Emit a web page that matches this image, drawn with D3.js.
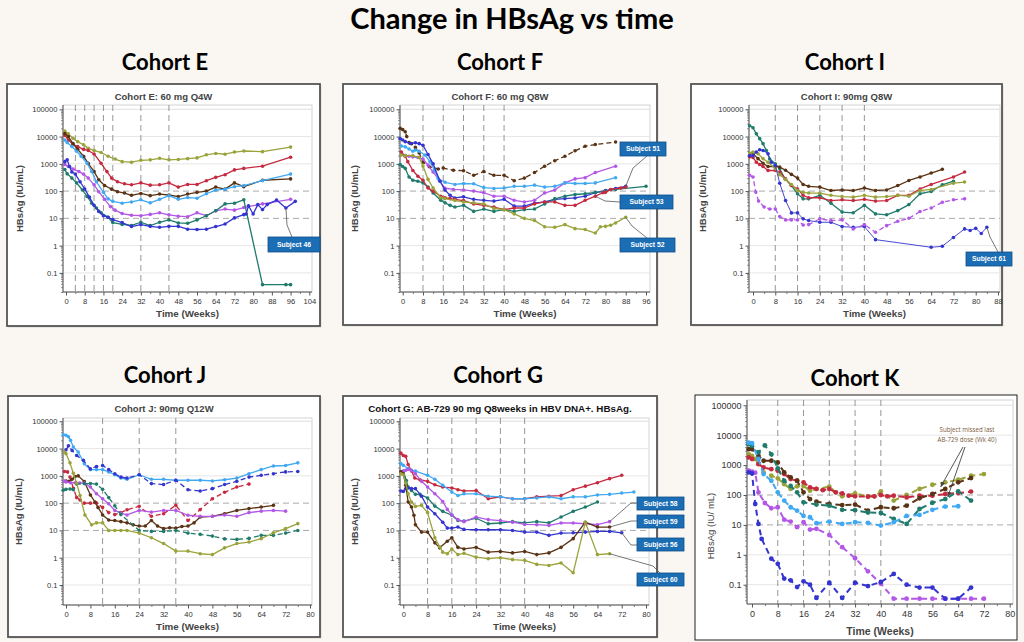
<!DOCTYPE html>
<html><head><meta charset="utf-8">
<script src="https://cdn.jsdelivr.net/npm/d3@7"></script>
<style>body{margin:0;background:#faf6f1;} svg{display:block}</style>
</head><body>
<svg id="c" width="1024" height="642"></svg>
<script>
// ---------- DATA: [week, HBsAg IU/mL] ----------
const yTickValues = [0.1, 1, 10, 100, 1000, 10000, 100000];
const yTickLabels = ["0.1", "1", "10", "100", "1000", "10000", "100000"];

// Cohort E
const E_olive = [[-0.5,16000],[1,12500],[3,8700],[5,6500],[7.5,5000],[9.5,3700],[12,3100],[15,2600],[18,1900],[21,1500],[24,1200],[28,1150],[32,1350],[36,1400],[40,1600],[44,1400],[48,1450],[52,1550],[56,1650],[60,2150],[64,2400],[68,2250],[72,2700],[76,2950],[84,2800],[96,4100]];
const E_red = [[-0.5,11000],[1,7500],[3,5200],[5,4300],[7.5,3400],[9.5,3100],[12,2300],[15,1050],[17.5,520],[19.5,300],[22,220],[25,185],[28,170],[32,200],[36,165],[40,170],[44,200],[48,140],[52,175],[56,175],[60,240],[64,320],[68,400],[72,600],[76,680],[84,820],[96,1750]];
const E_brown = [[-0.5,13000],[1,10000],[3,5500],[5,3400],[7.5,1900],[9.5,1050],[12,520],[14,260],[16.5,160],[19.5,118],[22,95],[25,85],[28,70],[32,82],[36,68],[40,78],[44,72],[48,63],[52,78],[56,90],[60,100],[64,140],[68,118],[72,200],[76,145],[84,250],[96,280]];
const E_lblue = [[-0.5,7500],[0.5,6000],[2.5,4300],[4.5,2900],[6.5,1900],[9,1050],[11,520],[13,220],[16,90],[18,52],[20,42],[24,36],[28,40],[32,48],[36,37],[40,50],[44,68],[48,50],[52,58],[56,55],[60,80],[64,108],[68,118],[72,145],[76,160],[84,240],[96,420]];
const E_purple = [[-0.5,950],[1,800],[3,650],[5.5,520],[7.5,420],[9.5,300],[12,170],[14,95],[16.5,50],[19,27],[21,20],[24,15],[28,13],[32,12.5],[36,14],[40,16],[44,13.5],[48,12],[52,11.5],[56,16],[60,12.5],[64,19],[68,22],[72,20],[76,25],[84,34],[96,50]];
const E_teal = [[-0.5,620],[0.5,430],[2.5,300],[4.5,200],[7,110],[9,64],[11,36],[13,24],[15,16],[18,11],[20,7],[24,6],[28,5.5],[32,7.2],[36,5.4],[40,7.2],[44,8.8],[48,6.8],[52,6.6],[56,8.8],[60,12.5],[64,19],[68,34],[72,36],[76,48],[84,0.037],[94,0.037],[96,0.037]];
const E_blue = [[-0.5,1200],[0.5,1400],[1.5,800],[2.5,500],[4,420],[6,220],[8,120],[10,60],[12,30],[14,18],[16,12.5],[18,11],[20,9],[24,7],[28,5],[32,5.9],[36,5.1],[40,4.7],[44,5.1],[48,5.1],[52,4],[56,3.9],[60,4],[64,5],[68,6.2],[72,10.4],[76,13.7],[77,14.5],[78,29],[80,14.5],[82,32],[84,21],[86,32],[90,47],[94,24],[98,42]];

// Cohort F
const F_brown = [[-1,20000],[0,18000],[1,15000],[1.6,10000],[2.5,6000],[3.5,5500],[5,4000],[6.5,2500],[8,1150],[10.5,780],[14,650],[16,700],[20,580],[24,560],[28,380],[32,520],[36,380],[40,380],[44,240],[48,300],[52,480],[56,820],[60,1300],[64,1900],[68,3000],[72,4400],[76,5100],[84,6300]];
const F_purple = [[-0.5,2200],[1,2000],[2.5,1900],[4,1800],[6,1700],[8,1500],[10,900],[12,500],[14.5,250],[16.5,130],[20,115],[24,110],[28,100],[32,87],[36,65],[40,65],[44,46],[48,40],[52,46],[56,85],[60,110],[64,200],[68,280],[72,310],[76,480],[84,820]];
const F_lblue = [[-0.5,4500],[1,4200],[2.5,3500],[4,2900],[5,3200],[6.5,2900],[8.8,2100],[10.8,1200],[12.5,600],[14,290],[16.7,210],[20.6,175],[24,190],[28,185],[32,135],[36,125],[40,130],[44,150],[48,150],[52,165],[56,140],[60,150],[64,200],[68,190],[72,190],[76,200],[84,310]];
const F_blue = [[-1,8500],[0,7500],[1,6500],[3,5600],[5,5900],[6.5,5500],[8,4800],[10,2200],[12,1000],[14.7,230],[16.7,110],[18.7,70],[20.6,56],[24,62],[28,50],[32,46],[36,43],[40,50],[44,28],[48,28],[52,36],[56,40],[60,50],[64,53],[68,56],[72,65],[76,87],[80,105],[84,125],[88,150]];
const F_teal = [[-1,950],[0,800],[1,680],[2.5,330],[4,250],[6,230],[8,200],[10,140],[12,85],[15,46],[16.7,37],[18.7,30],[20.6,26],[24,30],[28,18],[32,22],[36,18],[40,21],[44,18],[48,21],[52,22],[56,34],[60,52],[64,65],[68,75],[72,80],[76,90],[80,100],[84,115],[96,150]];
const F_red = [[-0.5,2700],[1,1900],[2,1200],[4,570],[6,350],[8,250],[10,130],[12,100],[15,65],[16.7,57],[18.7,53],[20.6,50],[24,45],[28,34],[32,30],[36,26],[40,21],[44,24],[48,24],[52,34],[56,40],[60,40],[64,30],[68,30],[72,46],[76,65],[79,87],[80,90],[82,115],[86,130],[88,140]];
const F_olive = [[-0.5,2100],[1,2000],[4,2000],[6.5,1700],[8,830],[10,270],[12,130],[15,57],[16.7,53],[20.6,45],[24,40],[28,37],[32,34],[36,23],[40,21],[44,14.6],[48,10],[52,8.3],[56,4.9],[60,4.7],[64,5.9],[68,4.2],[72,3.9],[76,2.9],[78,4.9],[80,5.1],[82,5.6],[84,6.8],[88,11]];

// Cohort I
const I_teal = [[-1.2,25000],[0,21000],[1.2,12600],[2.4,8400],[3.6,5500],[4.8,3100],[6,1500],[8,1000],[9.6,660],[11.5,280],[13.8,160],[16,80],[18,52],[20,52],[24,70],[28,36],[32,17],[36,16],[40,30],[44,14.6],[48,13.5],[52,19.3],[56,32],[60,80],[64,97],[68,170],[72,230]];
const I_brown = [[0,2350],[1.8,1550],[3.6,1050],[5.4,800],[8,800],[9.6,760],[11.7,580],[13.8,410],[16,300],[18,175],[20,150],[24,140],[28,105],[32,110],[36,105],[40,130],[44,105],[48,110],[52,160],[56,245],[60,330],[64,460],[68,630]];
const I_red = [[-1.2,1800],[0,1700],[1.2,1150],[2.4,950],[3.6,800],[5.4,570],[8,570],[9.6,500],[11.7,280],[13.8,160],[16,120],[18,70],[20,57],[24,57],[28,45],[32,48],[36,45],[40,50],[44,43],[48,45],[52,70],[56,70],[60,120],[64,175],[72,330],[76,500]];
const I_olive = [[-1.2,2500],[0,2700],[1.8,2350],[3.6,1550],[5.4,1150],[8,660],[9.6,400],[11.7,270],[13.8,175],[16,105],[18,90],[20,85],[24,85],[28,70],[32,63],[36,60],[40,70],[44,60],[48,63],[52,70],[56,65],[60,105],[64,115],[72,195],[76,215]];
const I_blue = [[-1.2,2000],[0,2000],[1.2,2700],[2.4,3300],[3.6,3100],[5.4,2350],[6.6,1150],[8,870],[9.6,195],[11.7,45],[13.8,15.9],[16,15.9],[18,9.6],[20,8.3],[24,7.2],[28,7.2],[32,5],[36,4.7],[40,5],[44,1.66],[64,0.87],[68,0.95],[72,2.0],[76,4.1],[78,3.6],[80,4.3],[82,2.8],[84,4.7]];
const I_purple = [[-1.2,380],[0,330],[1,92],[2,43],[4,26],[6,22],[8,22],[9.6,11.7],[11.7,8.8],[13.8,8.8],[16,8.8],[18,5.7],[20,5.9],[24,9.6],[28,8.3],[32,8.8],[36,4.1],[40,5.9],[44,3.1],[48,5.4],[52,7.8],[56,10.1],[60,17.8],[64,24],[68,39],[72,48],[76,52]];

// Cohort J
const J_lblue = [[-0.9,32000],[0,31000],[0.8,27000],[1.5,20000],[2.4,11500],[4,7500],[6,2800],[8,1700],[10,1700],[12,1700],[14,1400],[16,1100],[18,830],[20,750],[24,1100],[28,750],[32,750],[36,690],[40,690],[44,690],[48,650],[52,720],[56,830],[60,1200],[64,1700],[68,2300],[72,2400],[76,3000]];
const J_blue = [[0,9000],[0.8,12600],[2,8500],[3.5,5600],[5.7,3700],[8,1800],[10,2200],[12,2400],[14,1700],[16,1200],[18,900],[20,830],[24,1100],[28,520],[32,480],[36,690],[40,310],[44,280],[48,340],[52,480],[56,630],[60,900],[64,1050],[68,1200],[72,1400],[76,1450]];
const J_red = [[-0.5,1450],[0.5,1400],[1.3,900],[2.4,350],[3.5,160],[4.6,130],[6,100],[8,100],[10,100],[12,70],[14,45],[16,38],[18,45],[20,57],[24,77],[28,33],[32,41],[36,83],[40,23],[44,58],[48,145],[52,250],[56,390],[60,500]];
const J_brown = [[0,650],[1,630],[2,750],[3,950],[4,1000],[6,620],[8,200],[9.5,110],[10.5,70],[12,37],[14,24],[16,23],[18,21],[20,19],[22,16],[24,14.5],[26,14.5],[28,23],[30,14.5],[32,11.6],[34,12.6],[36,12.2],[38,14],[40,14.5],[42,19],[44,31],[48,33],[52,41],[56,54],[60,63],[64,72],[68,83]];
const J_purple = [[-0.5,640],[0,600],[1.5,560],[3,560],[4.5,550],[6,540],[8,390],[10,220],[12,145],[14,95],[16,54],[18,43],[20,37],[24,54],[28,47],[32,54],[36,54],[40,36],[44,33],[48,33],[52,37],[56,33],[60,45],[64,51],[68,54],[72,51]];
const J_teal = [[-0.9,300],[0,320],[1.3,330],[2.4,310],[3.5,500],[6,520],[8,520],[10,500],[12,320],[14,160],[16,80],[18,38],[24,10],[28,9.2],[32,9.2],[36,10],[40,8],[44,7.2],[48,6.2],[52,4.9],[56,4.7],[60,5.1],[64,6.6],[68,6.6],[72,8],[76,10]];
const J_olive = [[-0.5,7500],[0,6500],[1.3,3000],[2.4,1250],[3.5,540],[4.6,190],[6.2,37],[8.4,16],[10,19],[12,19],[14,10],[16,10],[18,10],[20,10],[24,8],[28,5.4],[32,3.3],[36,1.75],[40,1.75],[44,1.4],[48,1.3],[52,2.3],[56,3.3],[60,3.75],[64,5],[68,8.2],[72,11.6],[76,17.7]];

// Cohort G
const G_red = [[-0.8,6800],[0,5600],[0.8,5200],[1.6,2600],[2.7,1500],[3.8,830],[5.5,720],[8,630],[10.4,470],[13,390],[16,360],[18,310],[20,280],[24,290],[28,145],[32,170],[36,145],[40,145],[44,170],[48,180],[52,190],[56,310],[60,420],[64,560],[68,790],[72,1050]];
const G_lblue = [[-0.8,2800],[0,2450],[1.6,1850],[2.7,1600],[4,1500],[8,1050],[10.4,750],[13,450],[16,255],[18,190],[20,220],[24,220],[28,180],[32,170],[36,145],[40,145],[44,155],[48,170],[52,145],[56,170],[60,170],[64,200],[68,210],[72,235],[76,255]];
const G_teal = [[-0.8,1400],[0,1500],[1,680],[1.6,390],[2.7,290],[4,210],[5.5,210],[8,155],[10.4,78],[13,50],[16,36],[18,23],[20,22],[24,28],[28,17.6],[32,18.7],[36,21],[40,19],[44,21],[48,19],[52,31],[56,50],[60,72],[64,110]];
const G_purple = [[-0.8,1400],[0,1450],[0.8,1600],[1.6,1750],[2.7,1600],[4,1200],[6,630],[8,390],[10.4,220],[13,115],[14.5,59],[16,37],[18,25],[20,21],[24,31],[28,25],[32,23],[36,20],[40,16.6],[44,16.2],[48,15.3],[52,18.7],[56,18.7],[60,17.6],[64,16.2],[68,21]];
const G_blue = [[-0.8,280],[0,270],[0.8,340],[1.6,360],[2.7,340],[4,340],[6,180],[8,72],[10.4,41],[13,20],[14.5,12.2],[16,12.2],[18,13.3],[20,10.9],[24,10.6],[28,10.6],[32,10.6],[36,10],[40,8.7],[44,8.7],[48,6.6],[52,8],[56,8.2],[60,8.7],[64,9.2],[68,9.2],[72,8.2]];
const G_brown = [[-0.8,1400],[0,1200],[0.8,450],[1.6,110],[2.7,72],[3.5,36],[4,16.2],[6,8.7],[8,8.7],[10.4,3.5],[12,2.3],[14.5,4],[16,5.4],[18,2.4],[20,2.1],[24,2.4],[28,1.6],[32,1.7],[36,1.5],[40,1.7],[44,1.3],[48,1.5],[52,2.4],[56,5],[60,20],[64,13.3],[68,13.3]];
const G_olive = [[-0.8,1200],[0,1100],[0.8,550],[1.6,220],[2.7,110],[4,76],[6,83],[8,45],[10.4,5.4],[12,2.5],[13,1.6],[14.5,1.4],[16,2.1],[18,1.3],[20,1.45],[24,1.05],[28,0.92],[32,1],[36,0.85],[40,0.8],[44,0.57],[48,0.52],[52,0.64],[56,0.28],[60,20],[64,1.3],[68,1.4]];

// Cohort K
const K_olive = [[-1,2300],[0,2050],[1,1600],[2,1130],[3.6,570],[6,440],[8,360],[10,230],[12,160],[14,195],[16,200],[18,140],[20,160],[24,190],[26,123],[28,90],[32,113],[36,90],[38,90],[40,133],[44,65],[48,100],[52,160],[56,220],[60,265],[64,325],[68,440],[72,500]];
const K_red = [[-1,1800],[0,1600],[2,1070],[3.6,830],[6,730],[8,650],[10,500],[12,340],[14,300],[16,265],[18,180],[20,160],[22,145],[24,160],[26,123],[28,113],[30,95],[32,90],[36,88],[38,90],[40,100],[42,90],[44,95],[48,83],[52,95],[56,95],[60,108],[64,116],[68,130]];
const K_brown = [[-1,3400],[0,3400],[2,2050],[3.6,1400],[6,1400],[8,1230],[10,570],[12,390],[14,300],[16,123],[18,73],[20,60],[24,50],[28,46],[32,48],[36,30],[40,39],[44,36],[48,44],[52,78],[56,108],[60,160],[64,265],[68,370]];
const K_teal = [[-1,5000],[0,4400],[2,2650],[4,4600],[6,2300],[8,780],[10,300],[12,200],[14,123],[16,57],[20,48],[24,44],[28,32],[32,31],[36,26],[40,25],[44,16],[48,10.8],[52,34],[56,55],[60,73],[64,133],[68,65]];
const K_lblue = [[-1,5600],[0,5400],[2,1600],[3.6,500],[6,300],[8,123],[10,65],[12,39],[14,30],[16,20],[18,18],[20,11.4],[24,12.9],[28,10.8],[32,12.3],[36,11.7],[40,9.5],[44,12.3],[48,20],[52,21.5],[56,32],[60,41],[64,42]];
const K_purple = [[-1,650],[0,600],[1,560],[2,123],[4,54],[6,36],[8,39],[10,15],[12,12.9],[14,8.4],[16,12.3],[18,7],[20,7.4],[24,4.6],[28,1.8],[32,0.77],[36,0.28],[40,0.108],[44,0.034],[48,0.034],[52,0.034],[56,0.034],[60,0.034],[64,0.034],[68,0.034],[72,0.034]];
const K_blue = [[-1,570],[0,530],[1,50],[2,10.8],[3,3.4],[6,0.74],[8,0.5],[10,0.16],[12,0.14],[14,0.083],[16,0.13],[18,0.1],[20,0.036],[24,0.117],[28,0.036],[32,0.117],[36,0.09],[40,0.123],[44,0.23],[48,0.1],[52,0.08],[56,0.08],[60,0.034],[64,0.034],[68,0.08]];

// ---------- STYLE / LAYOUT ----------
const COL = {olive:'#9aa33a', red:'#c62a40', brown:'#5a3214', lblue:'#41a8f2', purple:'#b257e6', teal:'#1f7b6b', blue:'#3434cf'};
const FONT = '"Liberation Sans", Arial, sans-serif';

const panels = [
  {cohort:'Cohort E', cx:165, cy:70, title:'Cohort E: 60 mg Q4W', titleColor:'#444',
   frame:{x:7,y:84,w:313,h:242}, plot:{l:63,r:312,t:105,b:292}, xr:[66,309.3], xmax:104, yr:[272.9,109.3],
   vlines:[4,8,12,16,20,32,44], titleY:97, tickY:303, xlabY:317, ylabX:20,
   series:[[E_olive,'olive'],[E_red,'red'],[E_brown,'brown'],[E_lblue,'lblue'],[E_purple,'purple'],[E_teal,'teal'],[E_blue,'blue']],
   callouts:[{text:'Subject 46', box:[268,237,52,15], path:[[292,237],[287,225]], target:[94,24]}]},
  {cohort:'Cohort F', cx:500, cy:70, title:'Cohort F: 60 mg Q8W', titleColor:'#444',
   frame:{x:343,y:84,w:314,h:241}, plot:{l:400,r:650,t:105,b:292}, xr:[402.7,646], xmax:96, yr:[272.9,109.3],
   vlines:[8,16,24,32,40], titleY:97, tickY:303, xlabY:317, ylabX:355,
   series:[[F_brown,'brown','5,3'],[F_purple,'purple'],[F_lblue,'lblue'],[F_blue,'blue'],[F_teal,'teal'],[F_red,'red'],[F_olive,'olive']],
   callouts:[{text:'Subject 51', box:[620,142,46,14], path:[[647,156],[633,168]], target:[88,150]},
             {text:'Subject 53', box:[620,195,53,14], path:[[620,202],[605,201]], target:[76,65]},
             {text:'Subject 52', box:[620,238,55,14], path:[[647,238],[632,226]], target:[88,11]}]},
  {cohort:'Cohort I', cx:845, cy:70, title:'Cohort I: 90mg Q8W', titleColor:'#444',
   frame:{x:691,y:84,w:311,h:241}, plot:{l:749,r:1000,t:105,b:292}, xr:[753,998], xmax:88, yr:[272.9,109.3],
   vlines:[8,16,24,32,40], titleY:97, tickY:303, xlabY:317, ylabX:703,
   series:[[I_teal,'teal'],[I_brown,'brown'],[I_red,'red'],[I_olive,'olive'],[I_blue,'blue',null,0.9],[I_purple,'purple','5,3']],
   callouts:[{text:'Subject 61', box:[966,252,46,14], path:[[998,252],[990,237]], target:[84,4.7]}]},
  {cohort:'Cohort J', cx:165, cy:383, title:'Cohort J: 90mg Q12W', titleColor:'#444',
   frame:{x:8,y:396,w:312,h:241}, plot:{l:63,r:312,t:418,b:605}, xr:[66,310], xmax:80, yr:[585,421.3],
   vlines:[12,24,36], titleY:409, tickY:616, xlabY:630, ylabX:19,
   series:[[J_lblue,'lblue'],[J_blue,'blue','5,3'],[J_red,'red','5,3'],[J_brown,'brown'],[J_purple,'purple'],[J_teal,'teal','5,3'],[J_olive,'olive']],
   callouts:[]},
  {cohort:'Cohort G', cx:498, cy:383, title:'Cohort G: AB-729 90 mg Q8weeks in HBV DNA+. HBsAg.', titleColor:'#111',
   frame:{x:343,y:396,w:314,h:241}, plot:{l:400,r:649,t:418,b:605}, xr:[403.3,646], xmax:80, yr:[585,421.3],
   vlines:[8,16,24,32,40], titleY:409, tickY:616, xlabY:630, ylabX:355,
   series:[[G_red,'red'],[G_lblue,'lblue'],[G_teal,'teal'],[G_purple,'purple'],[G_blue,'blue'],[G_brown,'brown'],[G_olive,'olive']],
   callouts:[{text:'Subject 58', box:[637,497,47,13], path:[[637,503],[631,503]], target:[68,21]},
             {text:'Subject 59', box:[637,515,47,13], path:[[637,521],[631,521]], target:[68,13.3]},
             {text:'Subject 56', box:[637,538,47,13], path:[[637,545],[631,545]], target:[72,8.2]},
             {text:'Subject 60', box:[637,573,47,13], path:[[660,573],[653,566]], target:[68,1.4]}]},
  {cohort:'Cohort K', cx:855, cy:386, title:null, k:true,
   frame:{x:695,y:395,w:322,h:245}, plot:{l:747,r:1013,t:400,b:604}, xr:[752,1009.7], xmax:80, yr:[584.7,405.3],
   vlines:[8,16,24,32,40], tickY:618, xlabY:635, ylabX:711,
   series:[[K_olive,'olive','6,4'],[K_red,'red','6,4'],[K_brown,'brown','6,4'],[K_teal,'teal','6,4'],[K_lblue,'lblue','6,4'],[K_purple,'purple','6,4'],[K_blue,'blue','6,4']],
   callouts:[]}
];

const svg = d3.select('#c');
const defs = svg.append('defs');
const mk = defs.append('marker').attr('id','arr').attr('viewBox','0 0 10 10').attr('refX',9).attr('refY',5)
  .attr('markerWidth',6).attr('markerHeight',6).attr('orient','auto');
mk.append('path').attr('d','M0,1 L10,5 L0,9 Z').attr('fill','#444');

// main title
svg.append('text').attr('x',512).attr('y',29).attr('text-anchor','middle')
  .attr('font-family','Lato, "Open Sans", sans-serif').attr('font-weight','bold').attr('font-size',29)
  .attr('fill','#000').text('Change in HBsAg vs time');

panels.forEach(p => {
  // cohort heading
  svg.append('text').attr('x',p.cx).attr('y',p.cy).attr('text-anchor','middle')
    .attr('font-family','Lato, "Open Sans", sans-serif').attr('font-weight','bold').attr('font-size',22)
    .attr('fill','#000').text(p.cohort);

  const g = svg.append('g');
  const f = p.frame;
  if (p.k) {
    g.append('rect').attr('x',f.x).attr('y',f.y).attr('width',f.w).attr('height',f.h)
      .attr('fill','#fff').attr('stroke','#222').attr('stroke-width',1);
  } else {
    g.append('rect').attr('x',f.x+1.5).attr('y',f.y+1.5).attr('width',f.w).attr('height',f.h)
      .attr('fill','#d9d6d3');
    g.append('rect').attr('x',f.x).attr('y',f.y).attr('width',f.w).attr('height',f.h)
      .attr('fill','#fff').attr('stroke','#555').attr('stroke-width',1.8);
  }

  const x = d3.scaleLinear().domain([0, p.xmax]).range(p.xr);
  const y = d3.scaleLog().domain([0.1, 100000]).range(p.yr);
  const P = p.plot;

  // plot frame
  g.append('rect').attr('x',P.l).attr('y',P.t).attr('width',P.r-P.l).attr('height',P.b-P.t)
    .attr('fill','#fff').attr('stroke','#c8c8c8').attr('stroke-width',0.8);

  // gridlines
  yTickValues.concat([100000]).forEach(v => {
    if (v === 10 || v === 100) return;
    g.append('line').attr('x1',P.l).attr('x2',P.r).attr('y1',y(v)).attr('y2',y(v))
      .attr('stroke','#e6e6e6').attr('stroke-width',1);
  });
  [10,100].forEach(v => {
    g.append('line').attr('x1',P.l).attr('x2',P.r).attr('y1',y(v)).attr('y2',y(v))
      .attr('stroke','#a0a0a0').attr('stroke-width',0.9).attr('stroke-dasharray','6,4');
  });
  p.vlines.forEach(w => {
    g.append('line').attr('x1',x(w)).attr('x2',x(w)).attr('y1',P.t).attr('y2',P.b)
      .attr('stroke','#8a8a8a').attr('stroke-width',0.9).attr('stroke-dasharray','6,4');
  });

  // axes
  const tickFs = p.k ? 9 : 7.6;
  const yAxis = d3.axisLeft(y).tickValues(yTickValues).tickSize(3.5).tickPadding(2)
    .tickFormat((d,i) => yTickLabels[i]);
  const ya = g.append('g').attr('transform',`translate(${P.l},0)`).call(yAxis);
  ya.select('.domain').remove();
  ya.append('line').attr('x1',0).attr('x2',0).attr('y1',P.t).attr('y2',P.b).attr('stroke','#555');
  ya.selectAll('text').attr('font-family',FONT).attr('font-size',tickFs).attr('fill','#333');
  ya.selectAll('.tick line').attr('stroke','#555');
  const minor = [];
  for (let e=-2; e<5; e++) for (let m=2; m<10; m++) { const v=m*Math.pow(10,e); if (y(v)>=P.t && y(v)<=P.b) minor.push(v); }
  const ym = g.append('g').attr('transform',`translate(${P.l},0)`)
    .call(d3.axisLeft(y).tickValues(minor).tickSize(1.8).tickFormat(''));
  ym.select('.domain').remove();
  ym.selectAll('.tick line').attr('stroke','#777');

  const xAxis = d3.axisBottom(x).tickValues(d3.range(0, p.xmax+1, 8)).tickSize(3.5).tickPadding(3);
  const xa = g.append('g').attr('transform',`translate(0,${P.b})`).call(xAxis);
  xa.select('.domain').remove();
  xa.append('line').attr('x1',P.l).attr('x2',P.r).attr('y1',0).attr('y2',0).attr('stroke','#555');
  xa.selectAll('text').attr('font-family',FONT).attr('font-size',tickFs).attr('fill','#333');
  xa.selectAll('.tick line').attr('stroke','#555');
  const xm = g.append('g').attr('transform',`translate(0,${P.b})`)
    .call(d3.axisBottom(x).tickValues(d3.range(4, p.xmax, 8)).tickSize(2).tickFormat(''));
  xm.select('.domain').remove();
  xm.selectAll('.tick line').attr('stroke','#777');

  // labels
  const cxp = (P.l+P.r)/2, cyp = (P.t+P.b)/2;
  g.append('text').attr('x',cxp).attr('y',p.xlabY).attr('text-anchor','middle')
    .attr('font-family',FONT).attr('font-weight','bold').attr('font-size',p.k?10.5:9.8).attr('fill','#444')
    .text('Time (Weeks)');
  g.append('text').attr('transform',`translate(${p.ylabX},${p.k?cyp+24:cyp}) rotate(-90)`).attr('text-anchor','middle')
    .attr('dominant-baseline','middle')
    .attr('font-family',FONT).attr('font-weight',p.k?'normal':'bold').attr('font-size',p.k?9.5:9.5).attr('fill','#444')
    .text(p.k ? 'HBsAg (IU/ mL)' : 'HBsAg (IU/mL)');
  if (p.title) {
    g.append('text').attr('x',f.x+f.w/2).attr('y',p.titleY+3).attr('text-anchor','middle')
      .attr('font-family',FONT).attr('font-weight','bold').attr('font-size',p.title.length>30?9.8:9.5)
      .attr('fill',p.titleColor).text(p.title);
  }

  // series
  const line = d3.line().x(d => x(d[0])).y(d => y(d[1]));
  p.series.forEach(s => {
    const [data, c, dash, w] = s;
    const sg = g.append('g');
    sg.append('path').datum(data).attr('d',line).attr('fill','none').attr('stroke',COL[c])
      .attr('stroke-width', w || (p.k ? 2 : 1.3)).attr('stroke-dasharray', dash || null)
      .attr('stroke-linejoin','round');
    sg.selectAll('circle').data(data).join('circle').attr('cx',d=>x(d[0])).attr('cy',d=>y(d[1]))
      .attr('r', p.k ? 2.4 : 1.8).attr('fill',COL[c]);
  });

  // callouts
  p.callouts.forEach(c => {
    const pts = c.path.concat([[x(c.target[0]), y(c.target[1])]]);
    g.append('path').attr('d', d3.line()(pts)).attr('fill','none').attr('stroke','#555').attr('stroke-width',0.8);
    const [bx,by,bw,bh] = c.box;
    g.append('rect').attr('x',bx).attr('y',by).attr('width',bw).attr('height',bh)
      .attr('fill','#1b6db4').attr('stroke','#0f4f8c').attr('stroke-width',0.8);
    g.append('text').attr('x',bx+bw/2).attr('y',by+bh/2+2.4).attr('text-anchor','middle')
      .attr('font-family',FONT).attr('font-weight','bold').attr('font-size',6.8).attr('fill','#fff').text(c.text);
  });

  // Cohort K annotation
  if (p.k) {
    const ann = g.append('text').attr('text-anchor','middle').attr('font-family','"Open Sans", sans-serif')
      .attr('font-size',6.2).attr('fill','#7a5a3a');
    ann.append('tspan').attr('x',967).attr('y',432).text('Subject missed last');
    ann.append('tspan').attr('x',967).attr('y',442).text('AB-729 dose (Wk 40)');
    const tgts = [[58.6,150],[60.8,70]];
    const starts = [[963,447],[965,447]];
    tgts.forEach((t,i) => {
      g.append('line').attr('x1',starts[i][0]).attr('y1',starts[i][1])
        .attr('x2',x(t[0])).attr('y2',y(t[1]) - 3)
        .attr('stroke','#444').attr('stroke-width',0.9).attr('marker-end','url(#arr)');
    });
  }
});
</script>
</body></html>
